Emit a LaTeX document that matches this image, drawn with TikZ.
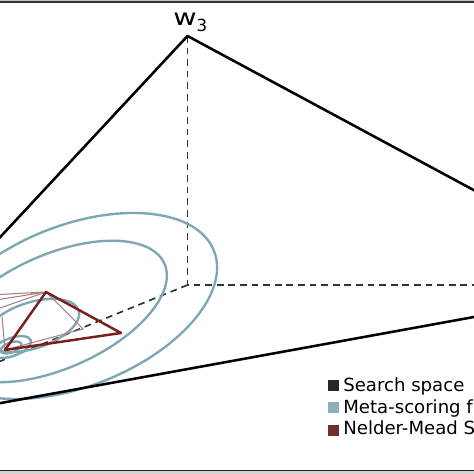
\documentclass[tikz,border=0pt]{standalone}
\usepackage{fontspec}
\setmainfont{DejaVu Sans}
\usepackage{tikz}
\usetikzlibrary{calc}
\definecolor{metablue}{HTML}{7FA7B3}
\definecolor{nmred}{HTML}{7A1E1E}
\definecolor{nmlight}{HTML}{A88282}
\definecolor{legblue}{HTML}{8DAFBA}
\definecolor{legred}{HTML}{6E2E2E}

\begin{document}
\begin{tikzpicture}[
  space/.style={black,line width=1.45pt,line join=round},
  axis/.style={black!80,line width=0.95pt,dash pattern=on 3.8pt off 2.8pt},
  contour/.style={metablue,line width=1.35pt},
  simplex/.style={nmred,line width=1.4pt,line join=round},
  oldsimplex/.style={nmlight,line width=0.6pt},
  legbox/.style={minimum size=0.22cm,inner sep=0pt},
  legtext/.style={anchor=base west,inner sep=0pt,font=\fontsize{10.3}{12}\selectfont}
]
\useasboundingbox (0,0) rectangle (9.48,9.48);

%frame
\fill[gray!45] (0,9.45) rectangle (9.48,9.48);
\draw[black!80,line width=1.2pt] (0,9.44) -- (9.48,9.44);
\fill[gray!35] (0,0) rectangle (9.48,0.05);
\draw[black!85,line width=1pt] (0,0.07) -- (9.48,0.07);

%corners of the search space
\coordinate (O) at (3.75,3.78);
\coordinate (W1) at (-3.72,0.74);
\coordinate (W2) at (13.00,3.78);
\coordinate (W3) at (3.75,8.76);

\begin{scope}
\clip (0,0.1) rectangle (9.48,9.40);

\draw[axis] (W3) -- (O) -- (W2);
\draw[axis] (O) -- (W1);

%meta-scoring contours
\draw[contour,rotate around={21.6:(1.49,3.36)}] (1.49,3.36) ellipse (3.00 and 1.61);
\draw[contour,rotate around={23.8:(1.12,3.25)}] (1.12,3.25) ellipse (2.37 and 1.14);
\draw[contour,rotate around={18:(0.64,2.97)}] (0.64,2.97) ellipse (0.98 and 0.46);
\draw[contour,rotate around={20:(0.24,2.54)}] (0.24,2.54) ellipse (0.40 and 0.18);
\draw[contour,rotate around={20:(0.22,2.53)}] (0.22,2.53) ellipse (0.22 and 0.10);

%simplex steps
\coordinate (A) at (0.92,3.64);
\coordinate (B) at (2.42,2.82);
\coordinate (C) at (0.10,2.48);
\coordinate (D) at (1.66,2.90);
\coordinate (p1) at (-0.40,3.57);
\coordinate (p2) at (-0.40,3.43);
\coordinate (p3) at (-0.40,3.18);
\coordinate (p4) at (0.04,3.14);

\draw[oldsimplex] (p1) -- (A) -- (p2);
\draw[oldsimplex] (p3) -- (A) -- (D) -- (C);
\draw[oldsimplex] (p4) -- (C);
\draw[simplex] (A) -- (B) -- (C) -- cycle;

%search space
\draw[space] (W1) -- (W3) -- (W2) -- cycle;
\end{scope}

%Labeling points
\node[anchor=base west,inner sep=0pt] (w3lab) at (3.46,8.96)
  {\scalebox{1.25}[1]{\fontsize{13}{13}\selectfont w}\raisebox{-0.12cm}{\fontsize{9.5}{10}\selectfont 3}};

%legend
\node[legbox,fill=black!85] (k1) at (6.67,1.76) {};
\node[legbox,fill=legblue] (k2) at (6.67,1.32) {};
\node[legbox,fill=legred] (k3) at (6.67,0.87) {};
\node[legtext] (t1) at (6.86,1.64) {Search space};
\node[legtext] (t2) at (6.86,1.21) {Meta-scoring f};
\node[legtext] (t3) at (6.86,0.78) {Nelder-Mead S};
\end{tikzpicture}
\end{document}
